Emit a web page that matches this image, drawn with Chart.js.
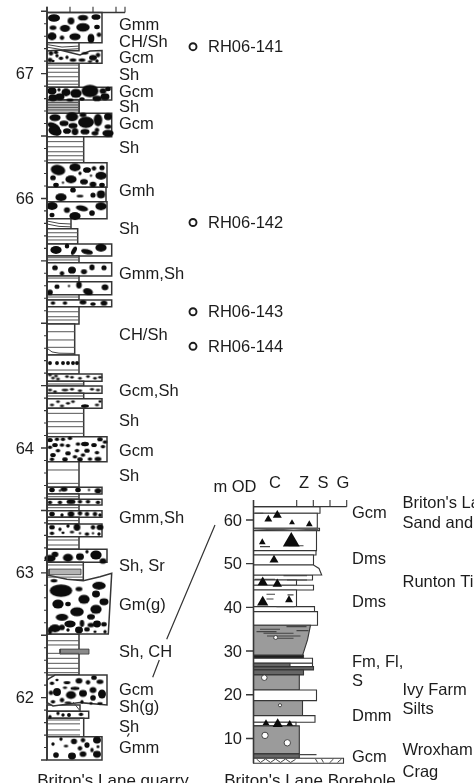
<!DOCTYPE html>
<html lang="en">
<head>
<meta charset="UTF-8">
<title>Briton's Lane sections</title>
<script src="https://cdn.jsdelivr.net/npm/chart.js"></script>
<style>
    html, body { margin: 0; background: #fff; }
    .chart-container { position: relative; width: 474px; height: 783px; overflow: hidden; }
</style>
</head>
<body>
<div class="chart-container"><canvas id="logChart"></canvas></div>
<script>
// --- quarry section: height in metres, grain width along the log ---
const quarryLevels = [67.49, 67.248, 67.184, 67.083, 66.890, 66.789, 66.682, 66.495, 66.286, 66.089, 65.974,
    65.838, 65.757, 65.635, 65.539, 65.485, 65.378, 65.333, 65.229, 65.186, 65.132, 64.994, 64.745, 64.593,
    64.535, 64.497, 64.438, 64.395, 64.318, 64.091, 63.890, 63.685, 63.632, 63.589, 63.543, 63.498, 63.445,
    63.391, 63.290, 63.188, 63.084, 62.942, 62.510, 62.181, 61.941, 61.890, 61.834, 61.686, 61.500];
// one width per interval, null where the bed is an irregular shape below
const quarryGrain = [55, 32, null, 32, 64.7, 32, 64.7, 36.7, 60, 59, 60, 24, 30.7, 64.7, 32, 64.7, 32, 64.7, 32,
    64.7, 32, 27.7, 32, 55, 36.7, 55, 36.7, 55, 36.7, 60, 32, 55, 32, 55, 32, 55, 32, 55, 32, 60, 36.3, null, 32,
    null, 33, 41.7, 36.7, 55];
const quarryGreyBed = [66.789, 66.682, 32];
const quarryShapes = [
    [[0, 67.181], [13, 67.189], [25, 67.165], [33, 67.149], [43, 67.181], [55, 67.185], [55, 67.083], [0, 67.083], [0, 67.181]],
    [[0, 62.982], [20, 62.948], [36.3, 62.937], [53, 62.969], [64.7, 62.996], [61.3, 62.510], [0, 62.510], [0, 62.982]],
    [[0, 62.14], [1.5, 62.15], [8, 62.181], [60, 62.181], [60, 61.941], [33, 61.96], [6, 61.933], [0, 61.96], [0, 62.14]]
];
const quarryBoxes = [
    [2, 34, 62.985, 63.03, '#b4b4b4'],
    [13, 42, 62.349, 62.389, '#8a8a8a']
];
const quarryLaminae = [
    [67.069, 32], [67.043, 32], [67.011, 32], [66.975, 32], [66.941, 32], [66.915, 32],
    [66.769, 32], [66.749, 32], [66.729, 32], [66.709, 32],
    [66.455, 36.7], [66.414, 36.7], [66.374, 36.7], [66.342, 36.7], [66.308, 36.7],
    [65.725, 30.7], [65.693, 30.7], [65.667, 30.7], [65.525, 32], [65.507, 32], [65.362, 32], [65.210, 32],
    [65.092, 32], [65.052, 32], [65.026, 32], [64.932, 27.7], [64.866, 27.7], [64.807, 27.7], [64.625, 32],
    [64.513, 36.7], [64.417, 36.7], [64.278, 36.7], [64.211, 36.7], [64.171, 36.7], [64.118, 36.7],
    [63.824, 32], [63.717, 32], [63.610, 32], [63.522, 32], [63.418, 32], [63.263, 32], [63.223, 32],
    [63.063, 36.3], [62.966, 36.3],
    [62.456, 32], [62.422, 32], [62.355, 32], [62.315, 32], [62.275, 32], [62.235, 32], [62.200, 32],
    [61.821, 33], [61.790, 33], [61.741, 33], [61.701, 33]
];
const quarryWavyLines = [
    [[0, 67.233], [15, 67.213], [32, 67.221]],
    [[0, 67.212], [15, 67.192], [32, 67.200]],
    [[0, 65.819], [12, 65.800], [24, 65.795]],
    [[0, 65.795], [12, 65.776], [24, 65.772]],
    [[0, 64.800], [5, 64.770], [12, 64.760], [27.7, 64.758]],
    [[26, 61.965], [33, 61.895]]
];
// clasts: x, height (m), half length, half height, tilt
const quarryClasts = [
    [7, 67.446, 5.3, 3.3], [24, 67.422, 3, 3], [36, 67.448, 4.5, 2.5], [49, 67.454, 4, 2.5], [6, 67.368, 3, 2],
    [18, 67.363, 4.5, 3], [36, 67.371, 6, 3.7], [50, 67.374, 2.5, 2], [5, 67.299, 4, 3.5], [15, 67.288, 2, 2],
    [28, 67.296, 5, 3], [44, 67.283, 3, 4], [52, 67.312, 2, 2],
    [4, 67.163, 2, 2], [9, 67.171, 2, 1.5], [3, 67.109, 2.2, 2], [10, 67.144, 1.5, 1.5], [14, 67.123, 2, 1.5],
    [20, 67.131, 1.5, 1.5], [26, 67.109, 3, 1.5], [35, 67.109, 3, 1.5], [38, 67.163, 3, 1], [46, 67.128, 3.5, 2.5],
    [51, 67.149, 2, 2], [50, 67.101, 1.5, 1.5], [6, 67.101, 1.5, 1], [43, 67.096, 2, 1],
    [5, 66.861, 4, 3], [6, 66.807, 4, 3], [13, 66.815, 4, 3], [19, 66.850, 4, 3.5], [29, 66.842, 5, 4],
    [43, 66.861, 7.5, 5.5], [35, 66.797, 2.5, 1.5], [50, 66.802, 4, 2.5], [58, 66.815, 4, 3], [61, 66.877, 2.5, 2],
    [56, 66.861, 3, 2.5], [12, 66.871, 1.5, 1.5], [23, 66.789, 3, 1.3],
    [8, 66.647, 5, 3], [25, 66.655, 5.5, 4], [36, 66.669, 3, 2], [61, 66.655, 3.5, 3], [51, 66.628, 3.8, 5.5],
    [39, 66.610, 7, 5], [17, 66.602, 4, 2.5], [7, 66.575, 6, 3, 0.5], [26, 66.583, 4, 2.5], [61, 66.575, 3, 2],
    [8, 66.540, 6, 4, 0.3], [20, 66.540, 3.5, 2.5], [28, 66.535, 3, 3], [38, 66.535, 4, 2.5], [50, 66.548, 2, 2],
    [61, 66.522, 5, 3], [48, 66.522, 3, 2],
    [11, 66.228, 6.5, 4.5, 0.2], [28, 66.249, 5, 3.5], [40, 66.228, 3.5, 2.5], [47, 66.241, 2, 2], [55, 66.246, 2.3, 2.3],
    [6, 66.166, 2.5, 2.3], [24, 66.153, 5, 3.5], [33, 66.201, 1.5, 1.5], [44, 66.182, 1, 1], [54, 66.182, 5, 3.5],
    [37, 66.134, 3.5, 2.5], [16, 66.126, 1, 1], [9, 66.108, 2.5, 2], [46, 66.113, 3, 2.5], [55, 66.108, 2.5, 2],
    [26, 66.068, 2.5, 2.3], [14, 66.009, 5, 3.5], [33, 66.019, 3, 1.2], [46, 66.027, 2.3, 2.3], [54, 66.033, 3.7, 3.5],
    [5, 65.939, 5, 3.5], [20, 65.907, 2.7, 2.5], [35, 65.921, 5.5, 2.5, 0.2], [54, 65.937, 5, 3.5], [5, 65.867, 2.3, 2],
    [28, 65.859, 5, 3.5], [45, 65.883, 2.5, 2.5],
    [9, 65.587, 5, 3.5], [20, 65.619, 2, 2.3], [27, 65.581, 2, 4, 0.5], [40, 65.573, 5.3, 2.3, 0.2], [54, 65.605, 5, 3.5],
    [8, 65.445, 2.5, 2.3], [15, 65.400, 2, 2], [25, 65.426, 3.5, 3.2], [37, 65.413, 2.7, 2.2], [45, 65.448, 2.3, 2.7], [57, 65.445, 2.3, 2.3],
    [10, 65.293, 2.3, 2], [22, 65.298, 1, 1], [32, 65.306, 2.5, 3], [41, 65.253, 4.5, 3, 0.3], [58, 65.288, 3, 2.7], [3, 65.248, 2.5, 2.5],
    [6, 65.162, 2, 1.5], [18, 65.162, 2, 1.5], [36, 65.168, 3, 2], [46, 65.154, 2.5, 1.5], [57, 65.162, 3, 2.3],
    [3, 64.681, 1.7, 1.7], [10, 64.681, 1.7, 1.7], [16, 64.681, 1.7, 1.7], [21, 64.681, 1.7, 1.7], [26, 64.681, 1.7, 1.7], [30, 64.681, 1.7, 1.7],
    [3, 64.585, 1.8, 1], [6, 64.561, 1.8, 1], [11, 64.553, 1.8, 1], [20, 64.572, 1.8, 1], [25, 64.567, 1.8, 1],
    [33, 64.559, 1.8, 1], [41, 64.572, 1.8, 1], [48, 64.559, 1.8, 1], [53, 64.567, 1.8, 1], [9, 64.577, 1.8, 1],
    [3, 64.465, 2, 1], [8, 64.451, 1.8, 1], [18, 64.465, 3, 1], [25, 64.471, 2, 1], [33, 64.459, 2, 1], [45, 64.471, 2, 1], [51, 64.465, 2, 1],
    [5, 64.345, 2, 1], [11, 64.371, 1.8, 1], [21, 64.358, 2, 1], [38, 64.337, 3.5, 1.5], [50, 64.345, 2, 1], [26, 64.371, 1.8, 1], [15, 64.337, 2, 1], [53, 64.373, 1.5, 1],
    [3, 64.064, 2.5, 1.8], [10, 64.070, 2, 1.5], [16, 64.070, 2, 1.5], [23, 64.078, 2, 1.5], [38, 64.032, 3.5, 2], [53, 64.070, 2.5, 1.8],
    [8, 64.024, 2.5, 1.8], [15, 64.024, 2, 1.5], [21, 64.019, 2, 1.5], [3, 64.006, 2, 1.5], [47, 64.024, 2.5, 1.8], [56, 64.011, 2, 1.5],
    [6, 63.944, 2.5, 1.8], [11, 63.979, 2, 1.5], [21, 63.958, 2.5, 1.8], [30, 63.979, 2, 1.5], [40, 63.979, 2.5, 1.8], [50, 63.963, 2, 1.5],
    [5, 63.910, 2, 1.5], [18, 63.910, 2.5, 1.8], [33, 63.910, 2.5, 1.8], [43, 63.912, 2, 1.5], [51, 63.912, 3, 2], [28, 63.930, 2, 1.5], [36, 63.944, 2, 1.5], [58, 64.048, 2, 1.5], [31, 64.032, 2, 1.5],
    [5, 63.664, 2.5, 2], [13, 63.658, 1, 1], [17, 63.669, 3, 2], [31, 63.664, 2.5, 2], [42, 63.664, 1, 1], [51, 63.658, 3, 2.3],
    [3, 63.565, 2, 1.5], [13, 63.565, 2, 1.5], [24, 63.570, 4, 2], [33, 63.570, 2, 1.5], [41, 63.570, 2, 1.5], [51, 63.565, 2, 1.5],
    [5, 63.471, 2.5, 2], [15, 63.463, 1.5, 1.5], [24, 63.471, 3, 2.5], [33, 63.477, 2, 2], [40, 63.471, 2, 2], [48, 63.471, 2, 2], [53, 63.463, 1.5, 1.5],
    [5, 63.365, 2.5, 2], [5, 63.317, 2, 1.5], [13, 63.349, 1.5, 1.5], [21, 63.375, 1.5, 1.5], [30, 63.365, 3, 3], [16, 63.321, 1.5, 1],
    [25, 63.327, 2, 1.2], [33, 63.317, 1, 1], [40, 63.311, 2, 1.5], [46, 63.365, 2, 2], [53, 63.365, 3, 2.5], [52, 63.311, 1.5, 1.5], [46, 63.317, 1, 1],
    [3, 63.116, 5, 3], [8, 63.148, 3, 2.5], [21, 63.121, 4.5, 3.5], [33, 63.129, 3.5, 3], [49, 63.143, 5, 4], [56, 63.095, 3, 2.5], [40, 63.169, 1.5, 1.5],
    [7, 62.937, 3, 1.5], [14, 62.857, 10, 5.5], [32, 62.870, 3, 2], [52, 62.897, 6, 3.5], [49, 62.830, 3.5, 3], [11, 62.750, 5, 4],
    [21, 62.750, 2.5, 2], [37, 62.788, 5, 4], [57, 62.768, 4, 3], [30, 62.688, 6, 4], [49, 62.708, 5, 4], [15, 62.644, 5.5, 3],
    [44, 62.648, 3.5, 2.5], [23, 62.590, 5, 3], [35, 62.595, 2, 3], [44, 62.582, 3, 2], [50, 62.590, 3.5, 3], [57, 62.588, 2.5, 2],
    [8, 62.555, 5, 3.5], [15, 62.563, 2.5, 2.5], [21, 62.542, 1.5, 1.5], [32, 62.542, 3.5, 3], [40, 62.547, 2.5, 2], [3, 62.536, 2, 3], [58, 62.528, 1.5, 1.5], [48, 62.528, 1.5, 1],
    [32, 62.135, 3, 2.5], [41, 62.123, 2, 2], [47, 62.160, 2.5, 2], [53, 62.127, 3, 2], [20, 62.120, 3, 1.3], [5, 62.115, 2, 1.5], [10, 62.141, 1.5, 1],
    [28, 62.074, 4, 1.5], [18, 62.079, 2, 1], [46, 62.061, 3, 2.7], [10, 62.045, 3.5, 3.5], [4, 62.039, 2, 2], [36, 62.034, 3.5, 3], [55, 62.029, 3.5, 4],
    [24, 62.021, 4.5, 3.5], [46, 61.999, 2.5, 2.5], [6, 61.967, 2, 1.5], [15, 61.981, 2, 2], [35, 61.967, 1.5, 1.5], [21, 61.959, 3, 1], [53, 61.954, 2.5, 1], [44, 61.954, 1.5, 1],
    [3, 61.847, 1.5, 1.5], [11, 61.874, 1.5, 1.5], [16, 61.861, 1.5, 1.5], [22, 61.861, 1.7, 1.7], [34, 61.866, 2, 1.5],
    [27, 61.650, 2.7, 2.5], [36, 61.660, 2, 2], [50, 61.660, 3.5, 3], [14, 61.668, 1.5, 1.5], [6, 61.628, 1.5, 1.5], [19, 61.612, 2, 1.2],
    [40, 61.620, 2.3, 2.5], [51, 61.606, 1.3, 1.3], [33, 61.594, 2, 2], [45, 61.580, 1.5, 2], [9, 61.540, 2.5, 2.5], [25, 61.532, 3.5, 3], [36, 61.548, 3, 2.5], [50, 61.546, 3.5, 3]
];
const quarryMajorTicks = [61.5, 62, 62.5, 63, 63.5, 64, 64.5, 65, 65.5, 66, 66.5, 67, 67.5];
const quarryMinorTicks = [61.6, 61.7, 61.8, 61.9, 62.1, 62.2, 62.3, 62.4, 62.6, 62.7, 62.8, 62.9, 63.1, 63.2, 63.3, 63.4,
    63.6, 63.7, 63.8, 63.9, 64.1, 64.2, 64.3, 64.4, 64.6, 64.7, 64.8, 64.9, 65.1, 65.2, 65.3, 65.4, 65.6, 65.7, 65.8, 65.9,
    66.1, 66.2, 66.3, 66.4, 66.6, 66.7, 66.8, 66.9, 67.1, 67.2, 67.3, 67.4];
const quarryTickLabels = [67, 66, 64, 63, 62];
const quarryGrainTicks = [0, 23, 46, 69, 78];
const quarryFacies = ['Gmm', 'CH/Sh', 'Gcm', 'Sh', 'Gcm', 'Sh', 'Gcm', 'Sh', 'Gmh', 'Sh', 'Gmm,Sh', 'CH/Sh', 'Gcm,Sh', 'Sh',
    'Gcm', 'Sh', 'Gmm,Sh', 'Sh, Sr', 'Gm(g)', 'Sh, CH', 'Gcm', 'Sh(g)', 'Sh', 'Gmm'];
const quarryFaciesLevels = [67.398, 67.261, 67.133, 66.997, 66.861, 66.741, 66.604, 66.412, 66.060, 65.763, 65.402, 64.914,
    64.465, 64.217, 63.984, 63.784, 63.447, 63.063, 62.750, 62.373, 62.069, 61.933, 61.773, 61.604];
const sampleNames = ['RH06-141', 'RH06-142', 'RH06-143', 'RH06-144'];
const sampleLevels = [67.216, 65.807, 65.092, 64.815];
const correlationLine = [[168, 63.383], [119.7, 62.467], null, [112.3, 62.301], [105.7, 62.163], null, [82.3, 61.714], [80.3, 61.688]];

// --- borehole: m OD ---
const boreLevels = [63.04, 61.53, 58.10, 57.55, 52.98, 51.99, 49.70, 47.42, 46.27, 45.06, 43.98, 40.16, 39.02, 35.91,
    29.11, 28.36, 27.21, 26.44, 25.68, 24.54, 21.10, 18.66, 15.22, 13.71, 12.87, 6.46, 5.48, 4.33];
const boreGrain = [66.5, 63.8, 66, 63, 62.5, 60, null, 59, 43, 60, 43, 61, 64, null, 50, 59, 59, 60, 50, 45.8, 63, 49, 61.5, 42.5, 45.8, 45.8, 90];
const boreLith = ['sand', 'sand', 'sand', 'sand', 'sand', 'sand', null, 'sand', 'sand', 'sand', 'sand', 'sand', 'sand', null,
    'black', 'sand', 'sand', 'dark', 'dark', 'silt', 'sand', 'silt', 'sand', 'sand', 'silt', 'dark', 'sand'];
const boreShapes = [
    [[0, 49.7], [60, 49.7], [65.5, 48.9], [68.2, 47.42], [0, 47.42], [0, 49.7]],
    [[0, 35.91], [57, 35.91], [54, 32.54], [49.2, 29.11], [0, 29.11], [0, 35.91]],
    [[0, 27.21], [36.5, 27.21], [36.5, 26.44], [0, 26.44], [0, 27.21]]
];
const boreShapeLith = ['sand', 'silt', 'dark'];
const boreDashes = [
    [1.5, 9.8, 61.53], [6.5, 16.5, 53.9], [35, 50, 54.1], [1.5, 21.5, 46.4], [30, 53.5, 47.26], [33.5, 53.5, 46.27],
    [13, 21.5, 43.0], [13, 20, 41.9], [34, 40, 42.85], [23, 41, 40.16], [45.8, 63, 6.3],
    [6.5, 26.5, 34.99], [33, 53, 35.59], [10, 40, 34.07], [13.5, 47, 33.45], [3, 23, 34.44], [43, 55, 34.67], [20, 40, 32.93]
];
const boreWavy = [[1, 58.0], [20, 57.85], [40, 57.65], [65, 57.85]];
const boreCrag = [[3, 5.3], [7, 4.5], [12, 5.3], [17, 4.5], [22, 5.3], [27, 4.5], [32, 5.3], [37, 4.5], [42, 5.2], null,
    [62, 5.3], [64, 4.5], null, [68, 5.3], [70, 4.5], null, [80, 5.3], [76, 4.4], null, [88, 5.3], [84, 4.5]];
const boreClasts = [[14.8, 60.16, 3.5], [23.8, 61.08, 4], [38.5, 59.38, 2.6], [55.8, 59.02, 3], [8.8, 54.9, 3], [37.8, 55.03, 7.5],
    [20.5, 50.85, 4], [9.2, 45.74, 4.5], [23.8, 45.36, 4.2], [9.2, 41.17, 5], [35.5, 41.7, 3.5], [12.5, 13.5, 3], [24.2, 13.26, 4.5], [36.2, 13.33, 3]];
const boreStones = [[22.2, 33.1, 2], [10.8, 23.9, 2.8], [26.5, 17.6, 1.6], [11.5, 10.7, 3.2], [33.8, 9.0, 3.2]];
const boreTicks = [60, 50, 40, 30, 20, 10];
const boreGrainTicks = [0, 43.2, 59.8, 76.5, 93.2];
const boreGrainNames = ['C', 'Z', 'S', 'G'];
const boreGrainNameX = [21.5, 50.5, 69.5, 89.5];
const boreFacies = ['Gcm', 'Dms', 'Dms', 'Fm, Fl,', 'S', 'Dmm', 'Gcm'];
const boreFaciesLevels = [61.83, 51.08, 41.24, 27.51, 23.16, 15.15, 5.77];
const unitNames = ["Briton's Lane", 'Sand and Gravel', 'Runton Till', 'Ivy Farm', 'Silts', 'Wroxham', 'Crag'];
const unitLevels = [64.12, 59.54, 45.88, 21.10, 16.75, 7.38, 2.41];

const LINE = '#363636', INK = '#1c1c1c';
const lithColors = { sand: '#ffffff', silt: '#9b9b9b', dark: '#666666', black: '#1e1e1e' };
const L = { xAxisID: 'xL', yAxisID: 'yL' }, R = { xAxisID: 'xR', yAxisID: 'yR' };
const CLAST_SCALE = 1.13, TRIANGLE_SCALE = 1.3;

function toPoints(pts) {
    return pts.map(p => p ? { x: p[0], y: p[1] } : { x: NaN, y: NaN });
}
function rectangle(x0, x1, y0, y1) {
    return [[x0, y0], [x1, y0], [x1, y1], [x0, y1], [x0, y0]];
}
function pathSet(axes, pts, width, color, fillColor) {
    return Object.assign({
        type: 'scatter', showLine: true, pointRadius: 0, spanGaps: false, tension: 0,
        borderWidth: width, borderColor: color, borderJoinStyle: 'miter',
        fill: fillColor ? 'shape' : false, backgroundColor: fillColor || 'transparent',
        data: toPoints(pts)
    }, axes);
}
function segments(list) {
    const out = [];
    list.forEach(seg => { out.push(...seg, null); });
    return out;
}

// one small canvas per clast shape so pebbles are not all round
const clastCache = {};
function clastImage(raw) {
    const key = [raw.rx, raw.ry, raw.tilt].join('_');
    if (clastCache[key]) return clastCache[key];
    const rx = raw.rx * CLAST_SCALE, ry = raw.ry * CLAST_SCALE;
    const size = Math.ceil(Math.max(rx, ry) * 2 + 4);
    const c = document.createElement('canvas');
    c.width = c.height = size;
    const g = c.getContext('2d');
    g.fillStyle = '#0c0c0c';
    g.beginPath();
    g.ellipse(size / 2, size / 2, rx, ry, raw.tilt, 0, Math.PI * 2);
    g.fill();
    clastCache[key] = c;
    return c;
}

const paintOrder = [];

// quarry log
quarryGrain.forEach((w, i) => {
    if (w === null) return;
    paintOrder.push(pathSet(L, rectangle(0, w, quarryLevels[i], quarryLevels[i + 1]), 1.5, LINE, '#ffffff'));
});
paintOrder.push(pathSet(L, rectangle(0, quarryGreyBed[2], quarryGreyBed[0], quarryGreyBed[1]), 1.5, LINE, '#b9b9b9'));
quarryShapes.forEach(s => paintOrder.push(pathSet(L, s, 1.5, LINE, '#ffffff')));
quarryBoxes.forEach(b => paintOrder.push(pathSet(L, rectangle(b[0], b[1], b[2], b[3]), 0.8, LINE, b[4])));
paintOrder.push(pathSet(L, segments(quarryLaminae.map(l => [[0, l[0]], [l[1], l[0]]])), 1, '#555555'));
paintOrder.push(pathSet(L, segments(quarryWavyLines), 1, '#444444'));
paintOrder.push(Object.assign({
    type: 'scatter', showLine: false, pointRadius: 3,
    pointStyle: ctx => ctx.raw ? clastImage(ctx.raw) : 'circle',
    data: quarryClasts.map(c => ({ x: c[0], y: c[1], rx: c[2], ry: c[3], tilt: c[4] || 0 }))
}, L));
// quarry axis
paintOrder.push(pathSet(L, [[0, 67.536], [0, 61.5]], 1.7, LINE));
paintOrder.push(pathSet(L, [[0, 67.49], [78, 67.49]], 1.3, LINE));
paintOrder.push(pathSet(L, segments(quarryGrainTicks.map(t => [[t, 67.49], [t, 67.536]])), 1.1, LINE));
paintOrder.push(pathSet(L, segments(quarryMajorTicks.map(t => [[-6, t], [0, t]])), 1.4, LINE));
paintOrder.push(pathSet(L, segments(quarryMinorTicks.map(t => [[-3, t], [0, t]])), 1.1, LINE));
// samples and the line tying the quarry to the borehole
paintOrder.push(Object.assign({
    type: 'scatter', showLine: false, pointRadius: 3.5, pointBorderWidth: 1.9, pointBorderColor: INK, pointBackgroundColor: '#fff',
    data: sampleLevels.map(m => ({ x: 146, y: m }))
}, L));
paintOrder.push(pathSet(L, correlationLine, 1.2, '#333333'));

// borehole log
boreGrain.forEach((w, i) => {
    if (w === null) return;
    paintOrder.push(pathSet(R, rectangle(0, w, boreLevels[i], boreLevels[i + 1]), 1.1, LINE, lithColors[boreLith[i]]));
});
boreShapes.forEach((s, i) => paintOrder.push(pathSet(R, s, 1.1, LINE, lithColors[boreShapeLith[i]])));
paintOrder.push(pathSet(R, segments(boreDashes.map(d => [[d[0], d[2]], [d[1], d[2]]])), 1.1, '#444444'));
paintOrder.push(pathSet(R, boreWavy, 1.6, '#555555'));
paintOrder.push(pathSet(R, boreCrag, 1, '#444444'));
paintOrder.push(Object.assign({
    type: 'scatter', showLine: false, pointStyle: 'triangle', pointBackgroundColor: '#0c0c0c', pointBorderWidth: 0,
    pointRadius: ctx => ctx.raw ? ctx.raw.size * TRIANGLE_SCALE : 3,
    data: boreClasts.map(c => ({ x: c[0], y: c[1], size: c[2] }))
}, R));
paintOrder.push(Object.assign({
    type: 'scatter', showLine: false, pointBackgroundColor: '#fff', pointBorderColor: '#444', pointBorderWidth: 1,
    pointRadius: ctx => ctx.raw ? ctx.raw.size : 2,
    data: boreStones.map(c => ({ x: c[0], y: c[1], size: c[2] }))
}, R));
// borehole axis
paintOrder.push(pathSet(R, [[0, 64.58], [0, 4.33]], 1.5, LINE));
paintOrder.push(pathSet(R, [[0, 63.04], [93.2, 63.04]], 1.3, LINE));
paintOrder.push(pathSet(R, segments(boreGrainTicks.map(t => [[t, 63.04], [t, 64.58]])), 1.1, LINE));
paintOrder.push(pathSet(R, segments(boreTicks.map(t => [[-7.5, t], [0, t]])), 1.4, LINE));

// Text sits on the same scales as the marks
const textPlugin = {
    id: 'logText',
    afterDatasetsDraw(chart) {
        const { ctx, scales } = chart;
        const put = (text, side, x, y, align) => {
            const xs = scales['x' + side], ys = scales['y' + side];
            ctx.textAlign = align || 'left';
            ctx.fillText(text, xs.getPixelForValue(x), ys.getPixelForValue(y) + 1);
        };
        ctx.save();
        ctx.font = '16.5px "Liberation Sans", Arial, sans-serif';
        ctx.fillStyle = INK;
        ctx.textBaseline = 'middle';
        quarryTickLabels.forEach(t => put(String(t), 'L', -13, t, 'right'));
        quarryFacies.forEach((t, i) => put(t, 'L', 72, quarryFaciesLevels[i]));
        sampleNames.forEach((t, i) => put(t, 'L', 161, sampleLevels[i]));
        put('g', 'L', 57, 68.03, 'center');
        boreTicks.forEach(t => put(String(t), 'R', -11.5, t, 'right'));
        boreGrainNames.forEach((t, i) => put(t, 'R', boreGrainNameX[i], 68.47, 'center'));
        put('m OD', 'R', -18.5, 67.78, 'center');
        boreFacies.forEach((t, i) => put(t, 'R', 98.5, boreFaciesLevels[i]));
        unitNames.forEach((t, i) => put(t, 'R', 149, unitLevels[i]));
        ctx.font = '17px "Liberation Sans", Arial, sans-serif';
        put("Briton's Lane quarry", 'L', 66, 61.34, 'center');
        put("Briton's Lane Borehole", 'R', 56.5, 0.51, 'center');
        ctx.restore();
    }
};

const hiddenLinear = (min, max) => ({ type: 'linear', display: false, min: min, max: max });

new Chart(document.getElementById('logChart').getContext('2d'), {
    type: 'scatter',
    data: { datasets: paintOrder.slice().reverse() }, // first dataset is painted last
    options: {
        responsive: true,
        maintainAspectRatio: false,
        animation: false,
        events: [],
        clip: false,
        layout: { padding: 0, autoPadding: false },
        plugins: { legend: { display: false }, tooltip: { enabled: false } },
        scales: {
            xL: hiddenLinear(-47, 427),
            yL: hiddenLinear(61.316, 67.59),
            xR: hiddenLinear(-253.5, 220.5),
            yR: hiddenLinear(-0.2, 179)
        }
    },
    plugins: [textPlugin]
});
</script>
</body>
</html>
